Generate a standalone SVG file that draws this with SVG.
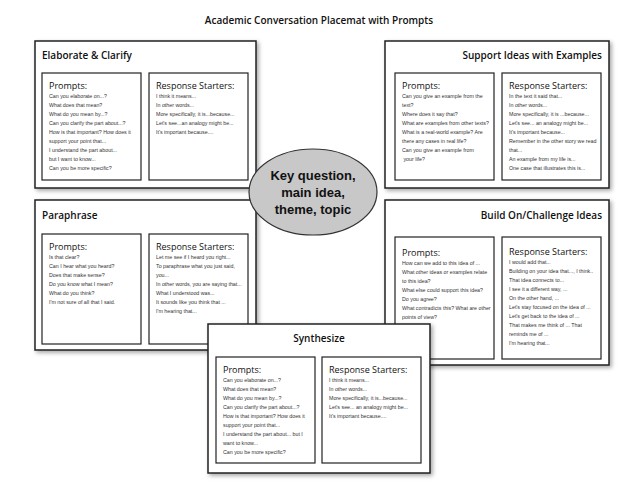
<svg xmlns="http://www.w3.org/2000/svg" width="638" height="493" viewBox="0 0 638 493">
<defs>
<filter id="sh" x="-5%" y="-5%" width="115%" height="115%"><feDropShadow dx="2" dy="2" stdDeviation="2" flood-color="#000" flood-opacity="0.35"/></filter>
<style>
.panel{fill:#fff;stroke:#222;stroke-width:1.5;filter:url(#sh)}
.inner{fill:#fff;stroke:#222;stroke-width:1.2}
.h{font-family:"Open Sans","DejaVu Sans",sans-serif;font-size:10px;font-weight:600;fill:#111}
.sub{font-family:"Open Sans","DejaVu Sans",sans-serif;font-size:9px;fill:#111}
.t{font-family:"Liberation Sans",sans-serif;font-size:5.3px;fill:#333}
</style>
</defs>
<rect width="638" height="493" fill="#fff"/>
<text x="319" y="24" text-anchor="middle" class="h">Academic Conversation Placemat with Prompts</text>

<g id="paraphrase">
<rect class="panel" x="35" y="200" width="221" height="150"/>
<text x="42" y="219" class="h">Paraphrase</text>
<rect class="inner" x="42" y="234" width="99" height="110"/>
<rect class="inner" x="149" y="234" width="99" height="110"/>
<text x="49" y="250" class="sub">Prompts:</text>
<text class="t"><tspan x="49" y="259">Is that clear?</tspan><tspan x="49" y="268">Can I hear what you heard?</tspan><tspan x="49" y="277">Does that make sense?</tspan><tspan x="49" y="286">Do you know what I mean?</tspan><tspan x="49" y="295">What do you think?</tspan><tspan x="49" y="304">I'm not sure of all that I said.</tspan></text>
<text x="156" y="250" class="sub">Response Starters:</text>
<text class="t"><tspan x="156" y="259">Let me see if I heard you right...</tspan><tspan x="156" y="268">To paraphrase what you just said,</tspan><tspan x="156" y="277">you...</tspan><tspan x="156" y="286">In other words, you are saying that...</tspan><tspan x="156" y="295">What I understood was...</tspan><tspan x="156" y="304">It sounds like you think that ...</tspan><tspan x="156" y="313">I'm hearing that...</tspan></text>
</g>

<g id="build">
<rect class="panel" x="385" y="200" width="224" height="165"/>
<text x="602" y="219" text-anchor="end" class="h">Build On/Challenge Ideas</text>
<rect class="inner" x="395" y="237" width="99" height="122"/>
<rect class="inner" x="502" y="237" width="99" height="122"/>
<text x="402" y="256" class="sub">Prompts:</text>
<text class="t"><tspan x="402" y="265">How can we add to this idea of ...</tspan><tspan x="402" y="274">What other ideas or examples relate</tspan><tspan x="402" y="283">to this idea?</tspan><tspan x="402" y="292">What else could support this idea?</tspan><tspan x="402" y="301">Do you agree?</tspan><tspan x="402" y="310">What contradicts this? What are other</tspan><tspan x="402" y="319">points of view?</tspan></text>
<text x="509" y="255" class="sub">Response Starters:</text>
<text class="t"><tspan x="509" y="264">I would add that...</tspan><tspan x="509" y="273">Building on your idea that..., I think..</tspan><tspan x="509" y="282">That idea connects to...</tspan><tspan x="509" y="291">I see it a different way, ...</tspan><tspan x="509" y="300">On the other hand, ...</tspan><tspan x="509" y="309">Let's stay focused on the idea of ...</tspan><tspan x="509" y="318">Let's get back to the idea of ...</tspan><tspan x="509" y="327">That makes me think of ... That</tspan><tspan x="509" y="336">reminds me of ...</tspan><tspan x="509" y="345">I'm hearing that...</tspan></text>
</g>

<g id="elaborate">
<rect class="panel" x="35" y="41" width="221" height="147"/>
<text x="42" y="59" class="h">Elaborate &amp; Clarify</text>
<rect class="inner" x="42" y="73" width="99" height="107"/>
<rect class="inner" x="149" y="73" width="99" height="107"/>
<text x="49" y="89" class="sub">Prompts:</text>
<text class="t"><tspan x="49" y="98">Can you elaborate on...?</tspan><tspan x="49" y="107">What does that mean?</tspan><tspan x="49" y="116">What do you mean by...?</tspan><tspan x="49" y="125">Can you clarify the part about...?</tspan><tspan x="49" y="134">How is that important? How does it</tspan><tspan x="49" y="143">support your point that...</tspan><tspan x="49" y="152">I understand the part about...</tspan><tspan x="49" y="161">but I want to know...</tspan><tspan x="49" y="170">Can you be more specific?</tspan></text>
<text x="156" y="89" class="sub">Response Starters:</text>
<text class="t"><tspan x="156" y="98">I think it means...</tspan><tspan x="156" y="107">In other words...</tspan><tspan x="156" y="116">More specifically, it is...because...</tspan><tspan x="156" y="125">Let's see...an analogy might be...</tspan><tspan x="156" y="134">It's important because....</tspan></text>
</g>

<g id="support">
<rect class="panel" x="385" y="41" width="224" height="147"/>
<text x="602" y="59" text-anchor="end" class="h">Support Ideas with Examples</text>
<rect class="inner" x="395" y="73" width="99" height="107"/>
<rect class="inner" x="502" y="73" width="99" height="107"/>
<text x="402" y="89" class="sub">Prompts:</text>
<text class="t"><tspan x="402" y="98">Can you give an example from the</tspan><tspan x="402" y="107">text?</tspan><tspan x="402" y="116">Where does it say that?</tspan><tspan x="402" y="125">What are examples from other texts?</tspan><tspan x="402" y="134">What is a real-world example? Are</tspan><tspan x="402" y="143">there any cases in real life?</tspan><tspan x="402" y="152">Can you give an example from</tspan><tspan x="402" y="161"> your life?</tspan></text>
<text x="509" y="89" class="sub">Response Starters:</text>
<text class="t"><tspan x="509" y="98">In the text it said that...</tspan><tspan x="509" y="107">In other words...</tspan><tspan x="509" y="116">More specifically, it is ...because...</tspan><tspan x="509" y="125">Let's see... an analogy might be...</tspan><tspan x="509" y="134">It's important because...</tspan><tspan x="509" y="143">Remember in the other story we read</tspan><tspan x="509" y="152">that...</tspan><tspan x="509" y="161">An example from my life is...</tspan><tspan x="509" y="170">One case that illustrates this is...</tspan></text>
</g>

<g id="synthesize">
<rect class="panel" x="208" y="324" width="222" height="149"/>
<text x="319" y="342" text-anchor="middle" class="h">Synthesize</text>
<rect class="inner" x="216" y="357" width="99" height="106"/>
<rect class="inner" x="322" y="357" width="99" height="106"/>
<text x="223" y="373" class="sub">Prompts:</text>
<text class="t"><tspan x="223" y="382">Can you elaborate on...?</tspan><tspan x="223" y="391">What does that mean?</tspan><tspan x="223" y="400">What do you mean by...?</tspan><tspan x="223" y="409">Can you clarify the part about...?</tspan><tspan x="223" y="418">How is that important? How does it</tspan><tspan x="223" y="427">support your point that...</tspan><tspan x="223" y="436">I understand the part about... but I</tspan><tspan x="223" y="445">want to know...</tspan><tspan x="223" y="454">Can you be more specific?</tspan></text>
<text x="329" y="373" class="sub">Response Starters:</text>
<text class="t"><tspan x="329" y="382">I think it means...</tspan><tspan x="329" y="391">In other words...</tspan><tspan x="329" y="400">More specifically, it is...because...</tspan><tspan x="329" y="409">Let's see... an analogy might be...</tspan><tspan x="329" y="418">It's important because....</tspan></text>
</g>

<g id="center">
<ellipse cx="313" cy="192" rx="64" ry="43" fill="#c8c8c8" stroke="#333" stroke-width="1.2"/>
<text text-anchor="middle" font-family="'Liberation Sans',sans-serif" font-weight="bold" font-size="13" fill="#111"><tspan x="313" y="180">Key question,</tspan><tspan x="313" y="197">main idea,</tspan><tspan x="313" y="214">theme, topic</tspan></text>
</g>
<g id="connectors"/>
</svg>
